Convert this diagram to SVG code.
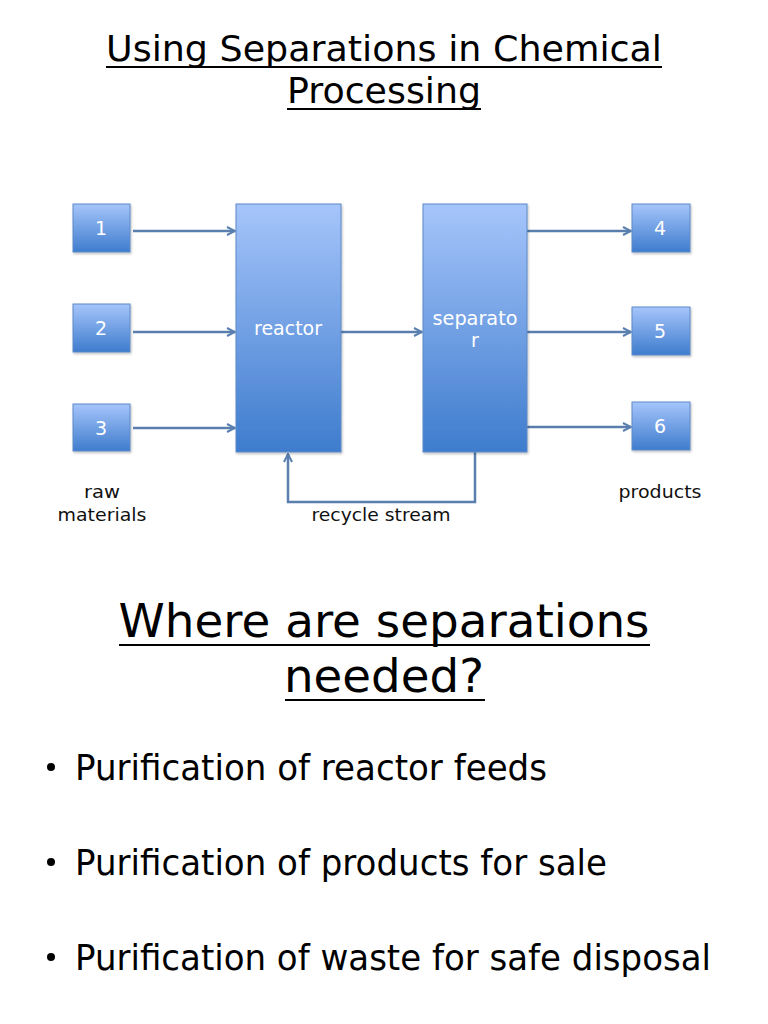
<svg xmlns="http://www.w3.org/2000/svg" width="768" height="1024" viewBox="0 0 768 1024">
<defs>
<linearGradient id="g" x1="0" y1="0" x2="0" y2="1">
<stop offset="0" stop-color="#a6c5fb"/>
<stop offset="1" stop-color="#3e7ccd"/>
</linearGradient>
<marker id="a" viewBox="0 0 10 10" refX="9" refY="5" markerWidth="10" markerHeight="10" markerUnits="userSpaceOnUse" orient="auto">
<path d="M1,1 L9,5 L1,9" fill="none" stroke="#5a7fae" stroke-width="2"/>
</marker>
<filter id="s" x="-10%" y="-10%" width="130%" height="130%">
<feDropShadow dx="1" dy="1.5" stdDeviation="1" flood-color="#000" flood-opacity="0.25"/>
</filter>
</defs>
<style>
.box{fill:url(#g);stroke:#5d8ac8;stroke-width:1;filter:url(#s)}
.bl{font-family:"DejaVu Sans",sans-serif;font-size:19px;fill:#ffffff;text-anchor:middle;dominant-baseline:central}
.lbl{font-family:"DejaVu Sans",sans-serif;font-size:18px;fill:#111111;text-anchor:middle}
.ttl{font-family:"DejaVu Sans",sans-serif;font-size:35px;fill:#000;text-anchor:middle}
.hd{font-family:"DejaVu Sans",sans-serif;font-size:46px;fill:#000;text-anchor:middle}
.bt{font-family:"DejaVu Sans",sans-serif;font-size:35px;fill:#000}
.ul{stroke:#000;stroke-width:2}
.c{fill:none;stroke:#5a7fae;stroke-width:2.5;marker-end:url(#a)}
</style>
<g id="title">
<text class="ttl" x="384" y="61" textLength="556" lengthAdjust="spacingAndGlyphs">Using Separations in Chemical</text>
<line class="ul" x1="106" y1="67" x2="662" y2="67"/>
<text class="ttl" x="384" y="103" textLength="194" lengthAdjust="spacingAndGlyphs">Processing</text>
<line class="ul" x1="287" y1="109" x2="481" y2="109"/>
</g>
<g id="connectors">
<line class="c" x1="133" y1="231" x2="235" y2="231"/>
<line class="c" x1="133" y1="332" x2="235" y2="332"/>
<line class="c" x1="133" y1="428" x2="235" y2="428"/>
<line class="c" x1="341" y1="332" x2="422" y2="332"/>
<line class="c" x1="527" y1="231" x2="631" y2="231"/>
<line class="c" x1="527" y1="332" x2="631" y2="332"/>
<line class="c" x1="527" y1="427" x2="631" y2="427"/>
<polyline class="c" points="475,452 475,502 288,502 288,454"/>
</g>
<g id="n1"><rect class="box" x="73" y="204" width="57" height="48"/><text class="bl" x="101" y="228">1</text></g>
<g id="n2"><rect class="box" x="73" y="304" width="57" height="48"/><text class="bl" x="101" y="328">2</text></g>
<g id="n3"><rect class="box" x="73" y="404" width="57" height="47"/><text class="bl" x="101" y="428">3</text></g>
<g id="reactor"><rect class="box" x="236" y="204" width="105" height="248"/><text class="bl" x="288" y="328" textLength="68" lengthAdjust="spacingAndGlyphs">reactor</text></g>
<g id="separator"><rect class="box" x="423" y="204" width="104" height="248"/><text class="bl" x="475" y="318" textLength="85" lengthAdjust="spacingAndGlyphs">separato</text><text class="bl" x="475" y="340">r</text></g>
<g id="n4"><rect class="box" x="632" y="204" width="58" height="48"/><text class="bl" x="660" y="228">4</text></g>
<g id="n5"><rect class="box" x="632" y="307" width="58" height="48"/><text class="bl" x="660" y="331">5</text></g>
<g id="n6"><rect class="box" x="632" y="402" width="58" height="48"/><text class="bl" x="660" y="426">6</text></g>
<g id="labels">
<text class="lbl" x="102" y="498" textLength="36" lengthAdjust="spacingAndGlyphs">raw</text>
<text class="lbl" x="102" y="521" textLength="89" lengthAdjust="spacingAndGlyphs">materials</text>
<text class="lbl" x="381" y="521" textLength="139" lengthAdjust="spacingAndGlyphs">recycle stream</text>
<text class="lbl" x="660" y="498" textLength="83" lengthAdjust="spacingAndGlyphs">products</text>
</g>
<g id="heading">
<text class="hd" x="384" y="637" textLength="531" lengthAdjust="spacingAndGlyphs">Where are separations</text>
<line class="ul" x1="119" y1="645" x2="650" y2="645"/>
<text class="hd" x="384" y="692" textLength="200" lengthAdjust="spacingAndGlyphs">needed?</text>
<line class="ul" x1="285" y1="700" x2="485" y2="700"/>
</g>
<g id="bullets">
<circle cx="51" cy="767" r="4" fill="#000"/>
<text class="bt" x="75" y="780" textLength="472" lengthAdjust="spacingAndGlyphs">Purification of reactor feeds</text>
<circle cx="51" cy="862" r="4" fill="#000"/>
<text class="bt" x="75" y="875" textLength="532" lengthAdjust="spacingAndGlyphs">Purification of products for sale</text>
<circle cx="51" cy="957" r="4" fill="#000"/>
<text class="bt" x="75" y="970" textLength="636" lengthAdjust="spacingAndGlyphs">Purification of waste for safe disposal</text>
</g>
</svg>
